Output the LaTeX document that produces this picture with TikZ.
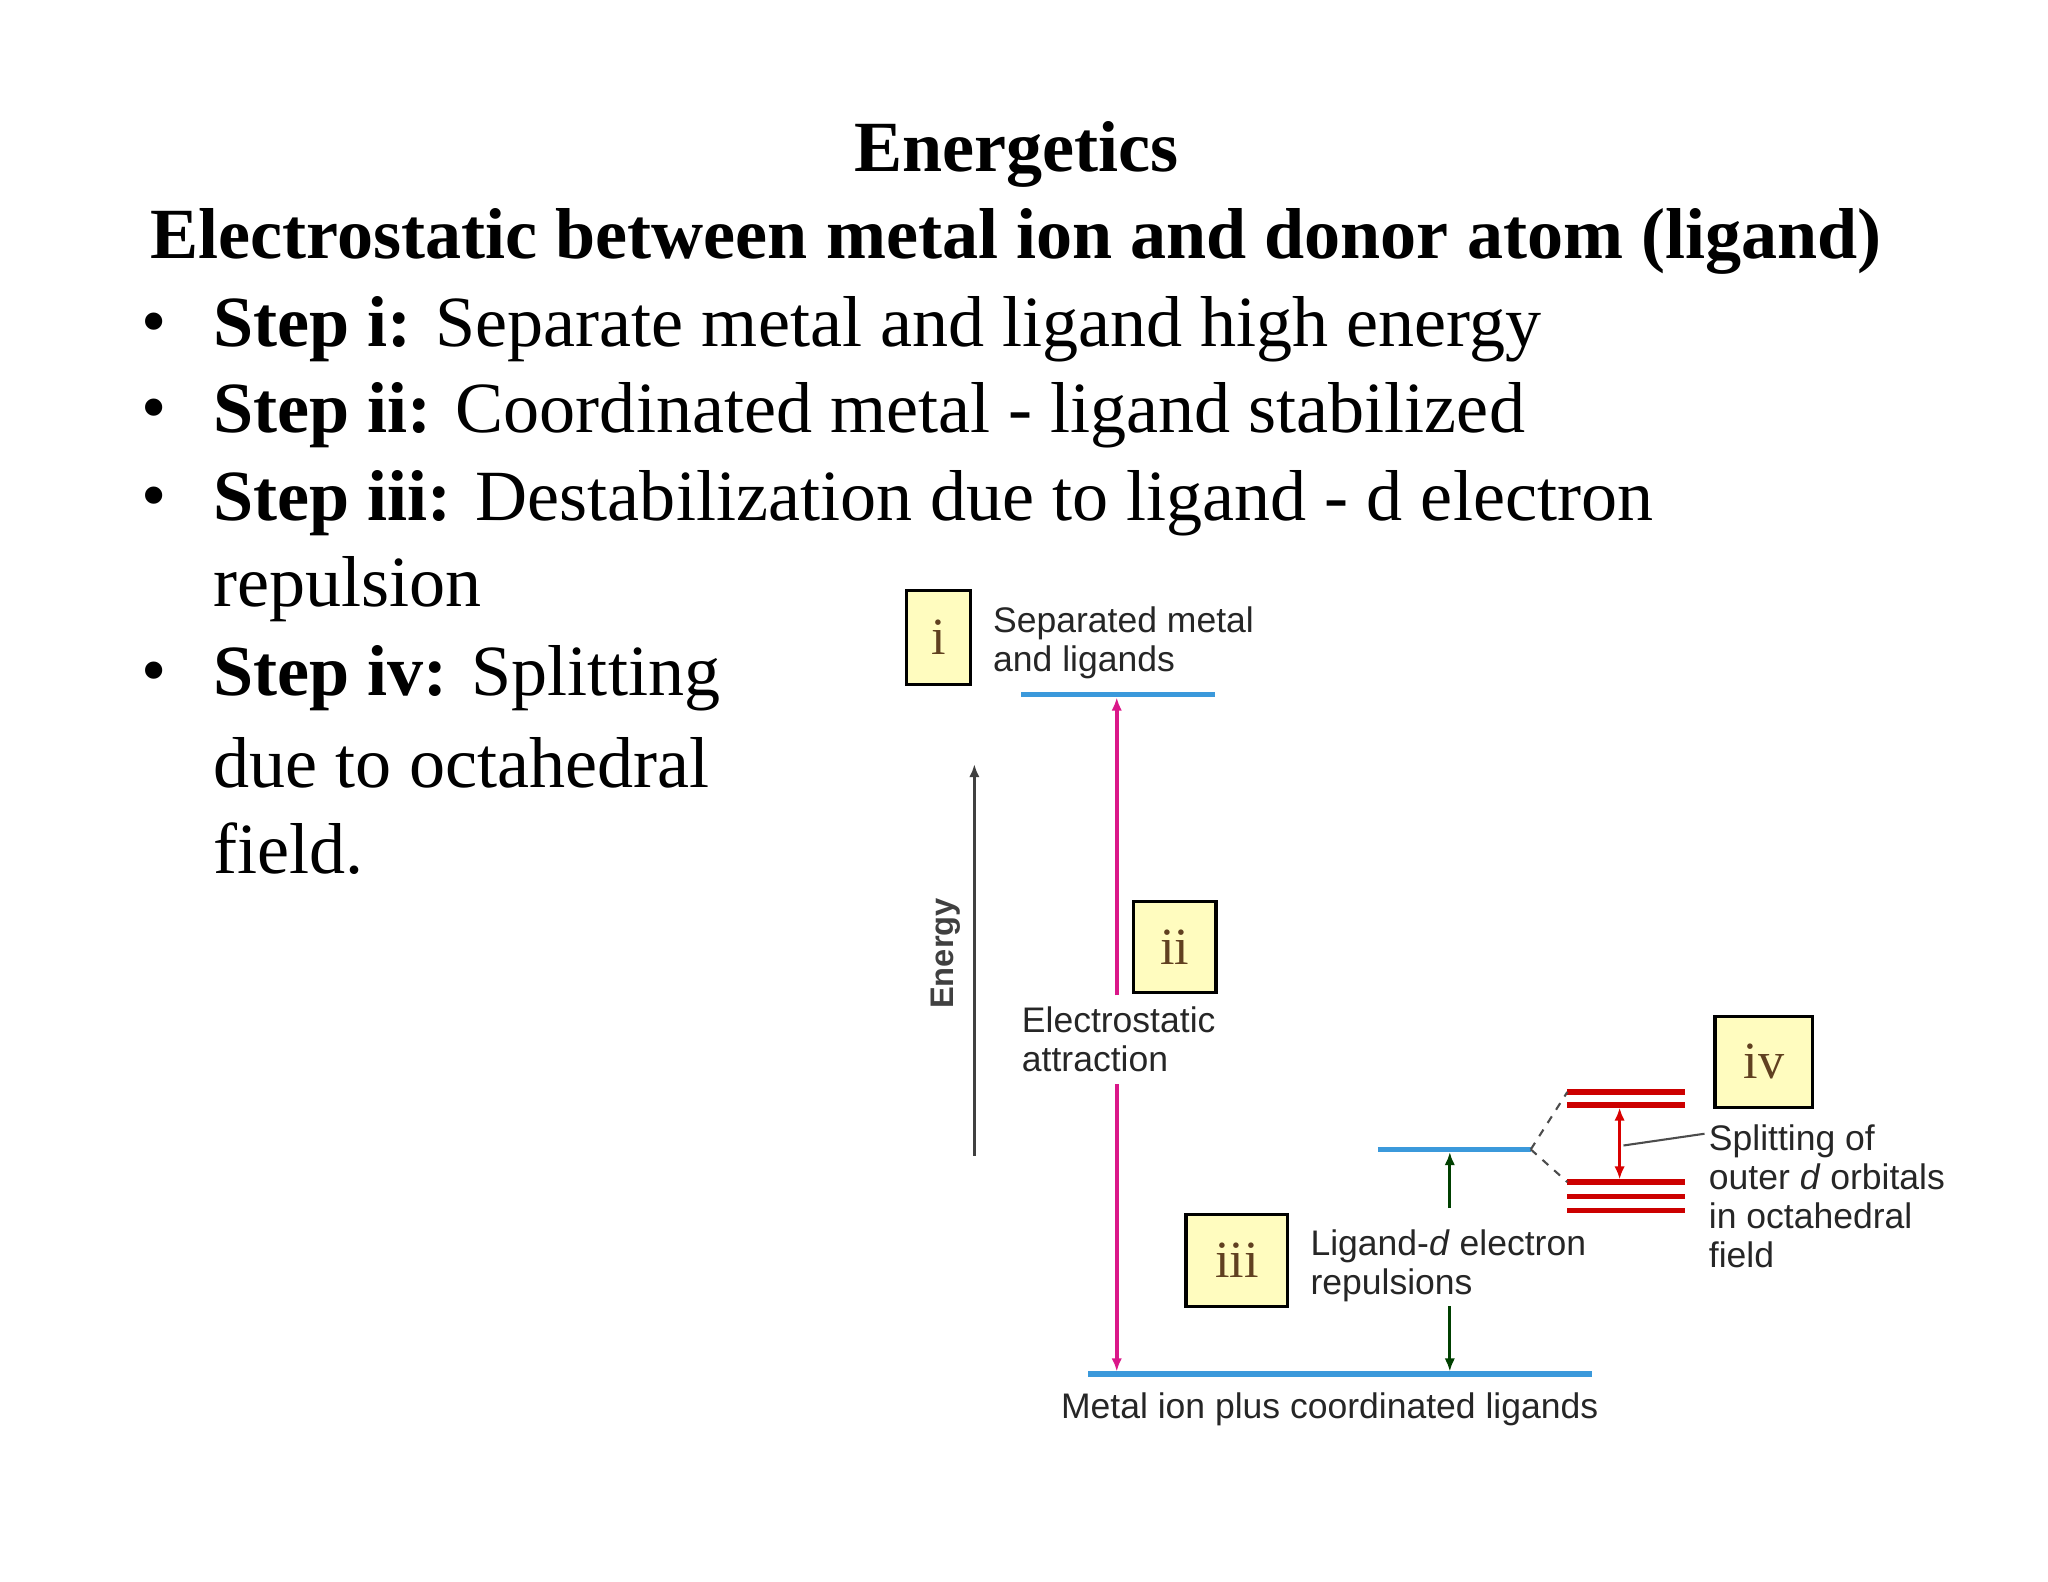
\documentclass[tikz,border=0pt]{standalone}
\usepackage{fontspec}
\setmainfont{Liberation Serif}
\newfontfamily\lab{Liberation Sans}
\usetikzlibrary{arrows.meta}
\begin{document}
\begin{tikzpicture}[x=0.5pt,y=-0.5pt,
  body/.style={anchor=west,font=\fontsize{27.6}{30}\selectfont,inner sep=0},
  bul/.style={font=\fontsize{27.6}{30}\selectfont,inner sep=0},
  lbl/.style={anchor=west,font=\lab\fontsize{13.6}{15}\selectfont,inner sep=0,align=left,text=black!85},
  box/.style={draw=black,line width=1.2pt,fill=yellow!25,inner sep=0,font=\fontsize{20}{20}\selectfont,text=brown!50!black},
  lev/.style={draw=cyan!70!blue!80,line width=2pt},
  red/.style={draw=red!80!black,line width=2pt},
  tip/.style={-{Latex[length=5pt,width=4pt]}}]
\useasboundingbox (0,0) rectangle (1568,1211);
\node[font=\bfseries\fontsize{27.6}{30}\selectfont] (t1) at (778,118) {Energetics};
\node[font=\bfseries\fontsize{27.6}{30}\selectfont] (t2) at (778,185) {Electrostatic between metal ion and donor atom (ligand)};
\foreach \y in {252,318,385,519} \node[bul] at (118,\y) {•};
\node[body] (s1) at (163,252) {\textbf{Step i:} Separate metal and ligand high energy};
\node[body] (s2) at (163,318) {\textbf{Step ii:} Coordinated metal - ligand stabilized};
\node[body] (s3) at (163,385) {\textbf{Step iii:} Destabilization due to ligand - d electron};
\node[body] (s3b) at (163,451) {repulsion};
\node[body] (s4) at (163,519) {\textbf{Step iv:} Splitting};
\node[body] (s4b) at (163,584) {due to octahedral};
\node[body] (s4c) at (163,650) {field.};
% diagram
\node[box,minimum width=24.5pt,minimum height=36pt] (bi) at (718.5,488) {i};
\node[lbl] (li) at (760,492) {Separated metal\\and ligands};
\coordinate (tl) at (782,532); \coordinate (tr) at (930,532);
\draw[lev] (tl) -- (tr);
\coordinate (eb) at (746,885); \coordinate (et) at (746,585);
\draw[tip,black!75,line width=1.2pt] (eb) -- (et);
\node[rotate=90,font=\lab\bfseries\fontsize{12.5}{12}\selectfont,text=black!75] (en) at (724,730) {Energy};
\node[box,minimum width=31.5pt,minimum height=35pt] (bii) at (899.5,725) {ii};
\node[lbl] (lii) at (782,796) {Electrostatic\\attraction};
\coordinate (bl) at (833,1052); \coordinate (br) at (1219,1052);
\draw[lev] (bl) -- (br);
\node[font=\lab\fontsize{13.6}{12}\selectfont,text=black!85] (lb) at (1018,1079) {Metal ion plus coordinated ligands};
\coordinate (m1) at (855,534); \coordinate (m2) at (855,762);
\coordinate (m3) at (855,830); \coordinate (m4) at (855,1050);
\draw[tip,magenta!80!violet,line width=1.6pt] (m2) -- (m1);
\draw[tip,magenta!80!violet,line width=1.6pt] (m3) -- (m4);
\coordinate (ml) at (1055,880); \coordinate (mr) at (1172,880);
\draw[lev] (ml) -- (mr);
\coordinate (a1) at (1110,925); \coordinate (a0) at (1110,882);
\coordinate (a2) at (1110,1000); \coordinate (a3) at (1110,1050);
\draw[tip,black!75!green,line width=1.2pt] (a1) -- (a0);
\draw[tip,black!75!green,line width=1.2pt] (a2) -- (a3);
\node[box,minimum width=39pt,minimum height=35pt] (biii) at (947,965) {iii};
\node[lbl] (liii) at (1003,969) {Ligand-\textit{d} electron\\repulsions};
\foreach \y in {836,846} \draw[red] (1200,\y) -- (1290,\y);
\foreach \y in {905,916,927} \draw[red] (1200,\y) -- (1290,\y);
\coordinate (u) at (1200,836); \coordinate (d) at (1200,905);
\draw[dashed,black!70,line width=0.8pt] (mr) -- (u);
\draw[dashed,black!70,line width=0.8pt] (mr) -- (d);
\coordinate (r1) at (1240,848); \coordinate (r2) at (1240,903);
\draw[{Latex[length=5pt,width=4pt]}-{Latex[length=5pt,width=4pt]},red!85!black,line width=1pt] (r1) -- (r2);
\node[box,minimum width=37.5pt,minimum height=35pt] (biv) at (1350.5,813) {iv};
\node[lbl] (liv) at (1308,916) {Splitting of\\outer \textit{d} orbitals\\in octahedral\\field};
\coordinate (q1) at (1243,877); \coordinate (q2) at (1305,868);
\draw[black!70,line width=0.8pt] (q1) -- (q2);
\end{tikzpicture}
\end{document}
